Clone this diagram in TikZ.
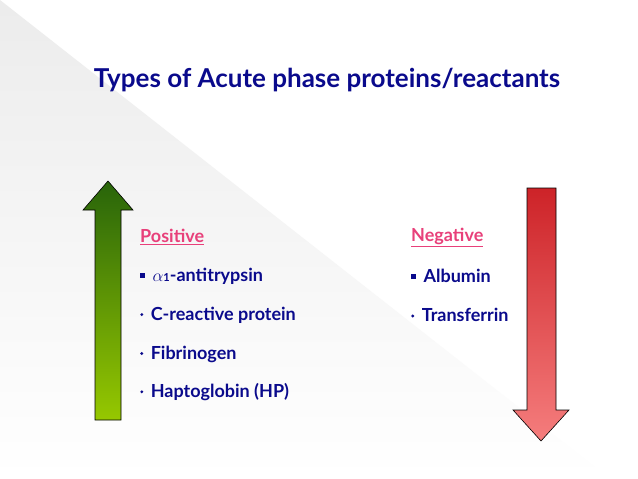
\documentclass[tikz,border=0pt]{standalone}
\usepackage{fontspec}
\setmainfont{Lato}
\usetikzlibrary{shadings}
\definecolor{tblue}{HTML}{0A0A8C}
\definecolor{tpink}{HTML}{E8407A}
\newcommand{\sqb}{\raisebox{3.5pt}{\rule{5pt}{5pt}}}
\newcommand{\dotb}{\raisebox{4pt}{\tikz\fill (0,0) circle (1.6pt);}}
\tikzset{item/.style={anchor=west,font=\bfseries\fontsize{18}{21}\selectfont,text=tblue,inner sep=0pt},
hdr/.style={anchor=west,font=\bfseries\fontsize{18}{21}\selectfont,text=tpink,inner sep=0pt}}
\begin{document}
\begin{tikzpicture}[x=1pt,y=-1pt]
\useasboundingbox (0,0) rectangle (638,479);
\fill[white] (0,0) rectangle (638,479);
\shade[top color=gray!15,bottom color=white] (0,0) -- (610,479) -- (0,479) -- cycle;
% green arrow
\shade[top color={rgb,255:red,40;green,100;blue,10},bottom color={rgb,255:red,150;green,200;blue,0},draw=black,line width=0.6pt]
 (95,420) -- (95,210) -- (83,210) -- (108,181) -- (133,210) -- (121,210) -- (121,420) -- cycle;
% red arrow
\shade[top color={rgb,255:red,205;green,35;blue,40},bottom color={rgb,255:red,245;green,125;blue,125},draw=black,line width=0.6pt]
 (527,188) -- (556,188) -- (556,410) -- (569,410) -- (541,441) -- (513,410) -- (527,410) -- cycle;
\node[anchor=center,font=\bfseries\fontsize{26}{30}\selectfont,text=tblue] (title) at (327,80) {Types of Acute phase proteins/reactants};
\node[hdr] (pos) at (140,237) {\underline{Positive}};
\node[item] (p1) at (140,276) {\sqb\, $\alpha$\raisebox{0pt}{\fontsize{11}{11}\selectfont 1}-antitrypsin};
\node[item] (p2) at (140,315) {\dotb\, C-reactive protein};
\node[item] (p3) at (140,354) {\dotb\, Fibrinogen};
\node[item] (p4) at (140,392) {\dotb\, Haptoglobin (HP)};
\node[hdr] (neg) at (411,237) {\underline{Negative}};
\node[item] (n1) at (411,276) {\sqb\, Albumin};
\node[item] (n2) at (411,315) {\dotb\, Transferrin};
\end{tikzpicture}
\end{document}
